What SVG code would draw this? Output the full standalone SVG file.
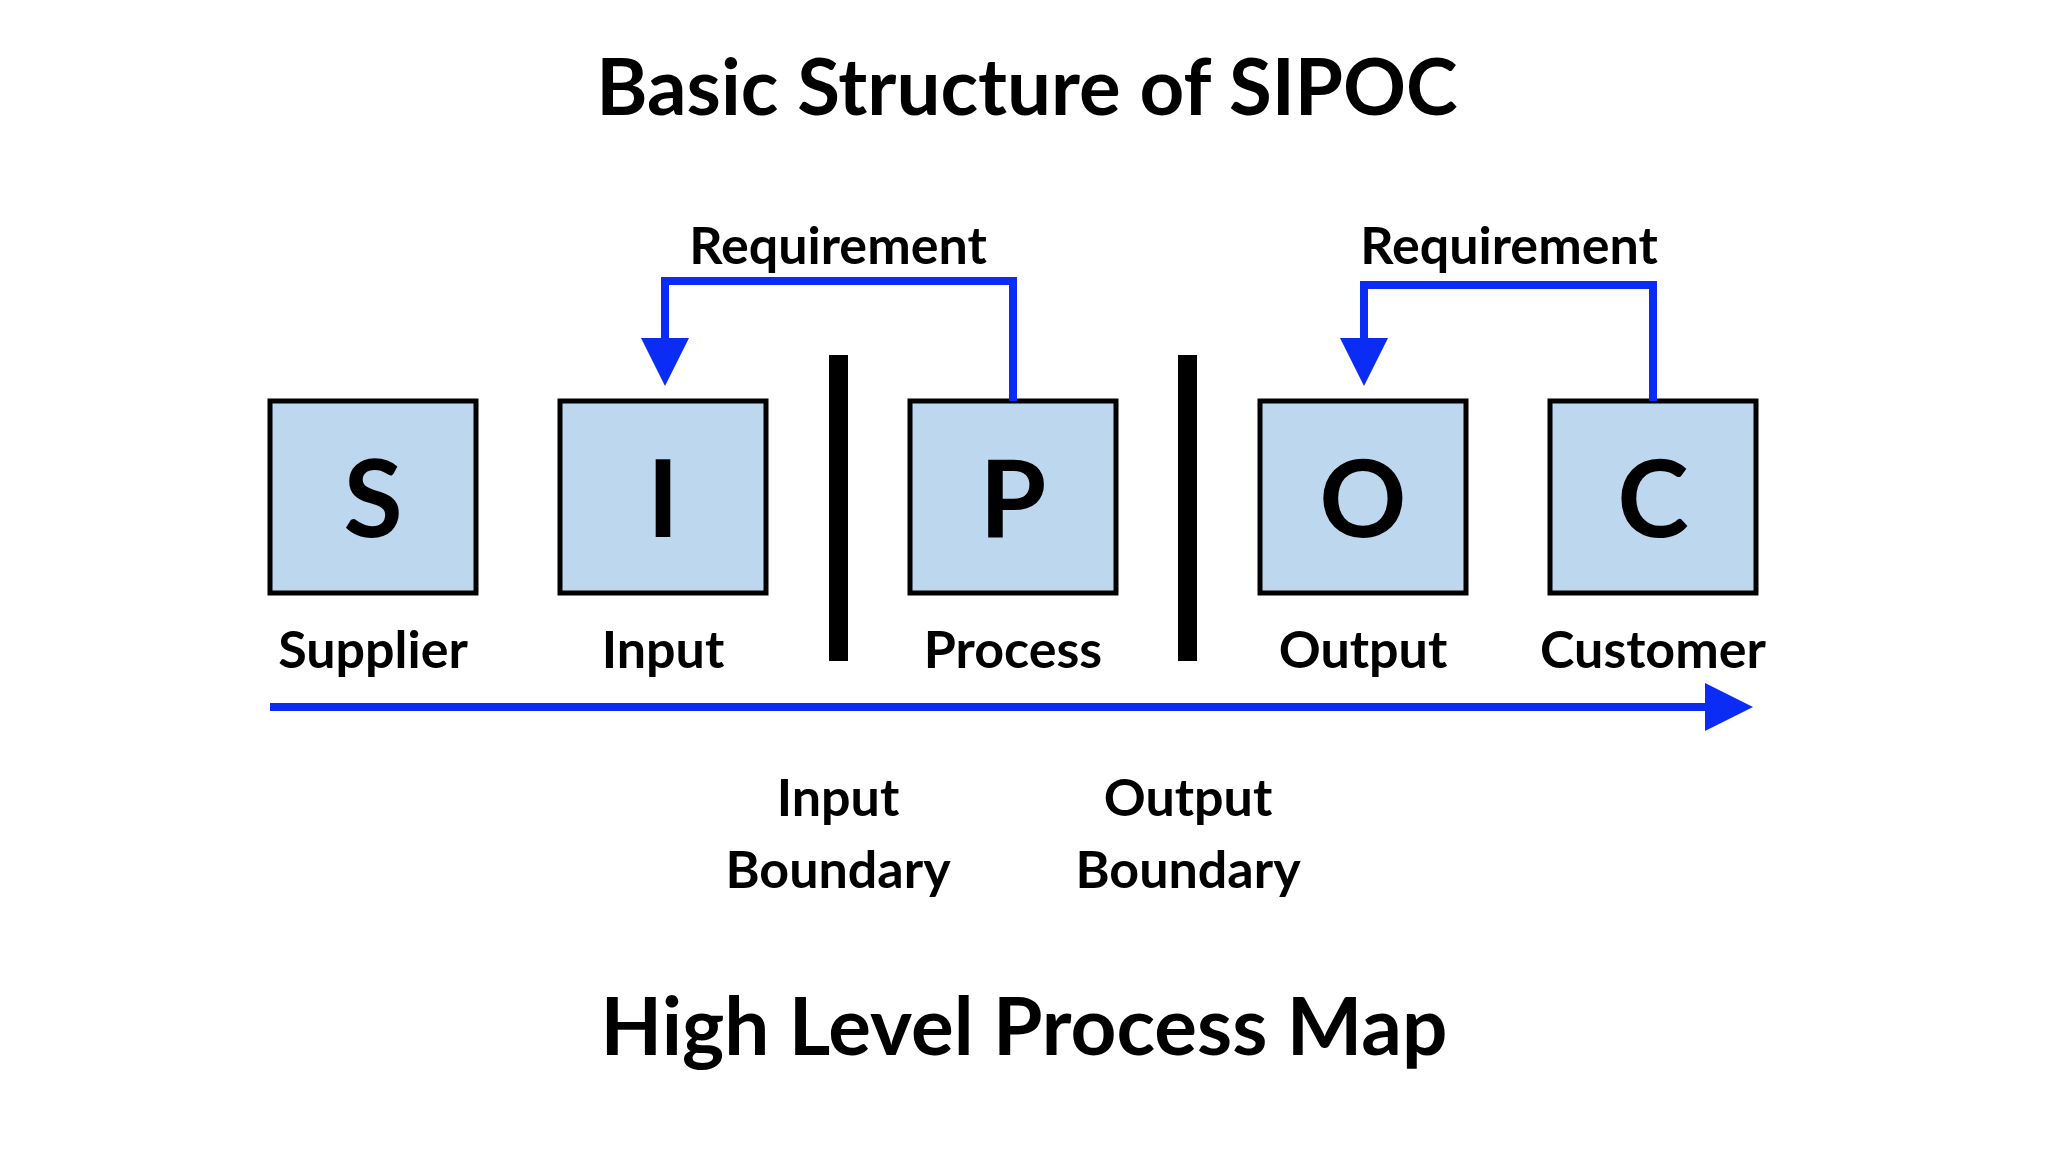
<svg xmlns="http://www.w3.org/2000/svg" width="2048" height="1152" viewBox="0 0 2048 1152">
<style>
text{font-family:Lato,"Open Sans","Liberation Sans",sans-serif;font-weight:bold;fill:#000;text-anchor:middle}
.box{fill:#bdd7ee;stroke:#000;stroke-width:5}
.lt{font-size:108px}
.lb{font-size:52px}
.c{fill:none;stroke:#0a2cf5;stroke-width:8}
</style>
<defs><marker id="ah" markerWidth="6" markerHeight="6" refX="5" refY="3" orient="auto" markerUnits="strokeWidth"><path d="M0,0L6,3L0,6z" fill="#0a2cf5"/></marker></defs>
<rect width="2048" height="1152" fill="#fff"/>
<text x="1027" y="115" font-size="78">Basic Structure of SIPOC</text>
<g id="S"><rect class="box" x="270" y="401" width="206" height="192"/><text class="lt" x="373" y="537">S</text><text class="lb" x="373" y="668">Supplier</text></g>
<g id="I"><rect class="box" x="560" y="401" width="206" height="192"/><text class="lt" x="663" y="537">I</text><text class="lb" x="663" y="668">Input</text></g>
<g id="P"><rect class="box" x="910" y="401" width="206" height="192"/><text class="lt" x="1013" y="537">P</text><text class="lb" x="1013" y="668">Process</text></g>
<g id="O"><rect class="box" x="1260" y="401" width="206" height="192"/><text class="lt" x="1363" y="537">O</text><text class="lb" x="1363" y="668">Output</text></g>
<g id="C"><rect class="box" x="1550" y="401" width="206" height="192"/><text class="lt" x="1653" y="537">C</text><text class="lb" x="1653" y="668">Customer</text></g>
<g id="inputBoundary"><rect x="829" y="355" width="19" height="306" fill="#000"/><text class="lb" x="838" y="816">Input</text><text class="lb" x="838" y="888">Boundary</text></g>
<g id="outputBoundary"><rect x="1178" y="355" width="19" height="306" fill="#000"/><text class="lb" x="1188" y="816">Output</text><text class="lb" x="1188" y="888">Boundary</text></g>
<g id="connectors">
<path class="c" d="M270,707H1745" marker-end="url(#ah)"/>
<path class="c" d="M1013,401V281H665V378" marker-end="url(#ah)"/>
<path class="c" d="M1653,401V285H1364V378" marker-end="url(#ah)"/>
<text class="lb" x="838" y="264">Requirement</text>
<text class="lb" x="1509" y="264">Requirement</text>
</g>
<text x="1024" y="1055" font-size="80">High Level Process Map</text>
</svg>
